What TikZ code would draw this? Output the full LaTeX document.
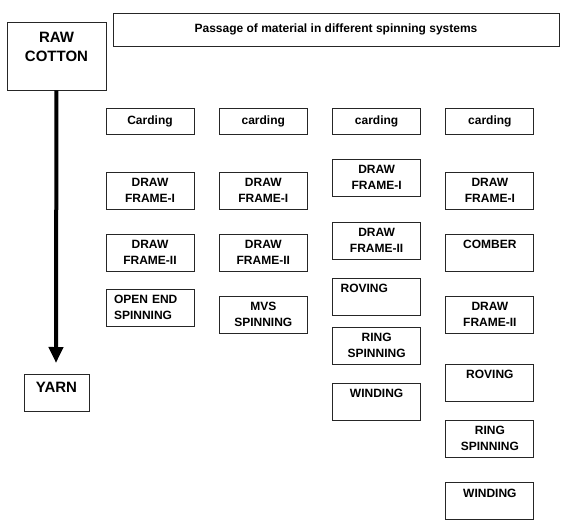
\documentclass[tikz,border=0pt]{standalone}
\usepackage{fontspec}
\setmainfont{Liberation Sans}
\usetikzlibrary{arrows.meta,positioning}

\tikzset{
  stage/.style={draw=black!85, line width=0.9pt, minimum width=88pt, minimum height=37pt,
    inner sep=0pt, align=center, font=\fontsize{12}{16}\selectfont\bfseries},
  cardbox/.style={stage, minimum height=26pt},
  leftstage/.style={stage, text width=72pt, align=left},
  bigbox/.style={stage, font=\fontsize{15}{19}\selectfont\bfseries},
  flow/.style={line width=4pt, -{Triangle[width=14pt,length=16pt]}}
}

\begin{document}
\begin{tikzpicture}[node distance=113.3pt]
\useasboundingbox (0,0) rectangle (565pt,-530pt);

\node (raw) [bigbox, minimum width=99pt, minimum height=68pt] at (56.5pt,-56pt) {RAW\\COTTON\\\mbox{}};
\node (title) [stage, minimum width=446pt, minimum height=33pt] at (336pt,-29.5pt) {Passage of material in different spinning systems};
\node (yarn) [bigbox, minimum width=65pt, text depth=10pt] at (56.5pt,-392.5pt) {YARN};
\coordinate (tip) at (56pt,-363pt);

\draw[flow] (raw) -- (tip);

% carding row
\node (a1) [cardbox] at (150pt,-121pt) {Carding};
\node (b1) [cardbox, right of=a1] {carding};
\node (c1) [cardbox, right of=b1] {carding};
\node (d1) [cardbox, right of=c1] {carding};

% open end
\node (a2) [stage, node distance=69.5pt, below of=a1] {DRAW\\FRAME-I};
\node (a3) [stage, node distance=62pt, below of=a2] {DRAW\\FRAME-II};
\node (a4) [leftstage, node distance=55pt, below of=a3] {OPEN END\\SPINNING};

% mvs
\node (b2) [stage, node distance=69.5pt, below of=b1] {DRAW\\FRAME-I};
\node (b3) [stage, node distance=62pt, below of=b2] {DRAW\\FRAME-II};
\node (b4) [stage, node distance=62pt, below of=b3] {MVS\\SPINNING};

% ring, carded
\node (c2) [stage, node distance=56.5pt, below of=c1] {DRAW\\FRAME-I};
\node (c3) [stage, node distance=63pt, below of=c2] {DRAW\\FRAME-II};
\node (c4) [leftstage, node distance=56pt, below of=c3] {ROVING\\\mbox{}};
\node (c5) [stage, node distance=49pt, below of=c4] {RING\\SPINNING};
\node (c6) [stage, node distance=56pt, below of=c5] {WINDING\\\mbox{}};

% ring, combed
\node (d2) [stage, node distance=69.5pt, below of=d1] {DRAW\\FRAME-I};
\node (d3) [stage, node distance=62pt, below of=d2] {COMBER\\\mbox{}};
\node (d4) [stage, node distance=62pt, below of=d3] {DRAW\\FRAME-II};
\node (d5) [stage, node distance=68pt, below of=d4] {ROVING\\\mbox{}};
\node (d6) [stage, node distance=56pt, below of=d5] {RING\\SPINNING};
\node (d7) [stage, node distance=62.5pt, below of=d6] {WINDING\\\mbox{}};
\end{tikzpicture}
\end{document}
